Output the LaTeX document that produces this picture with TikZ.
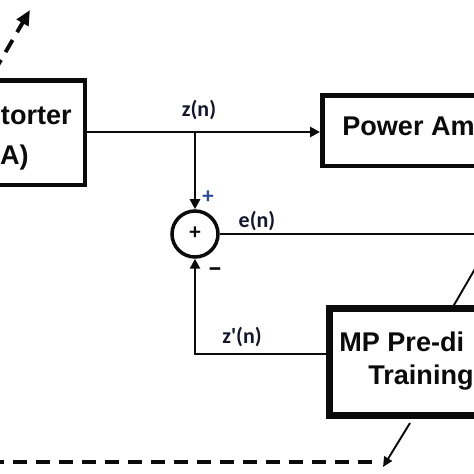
\documentclass[tikz,border=0pt]{standalone}
\usepackage{fontspec}
\setmainfont{Liberation Sans}
\newfontfamily\sigfont{Carlito}
\usetikzlibrary{positioning, arrows.meta, calc}
\definecolor{ink}{HTML}{0B0B0B}
\definecolor{sigink}{HTML}{15152E}
\definecolor{plusc}{HTML}{2B4C9B}

\begin{document}
\begin{tikzpicture}[
    x=0.02cm, y=0.02cm,
    box/.style={rectangle, draw=ink, line width=#1, fill=white, inner sep=0pt},
    box/.default=2.8pt,
    boxtxt/.style={font=\fontsize{15.4}{18}\selectfont\bfseries, text=ink, inner sep=0pt},
    sumnode/.style={circle, draw=ink, line width=2pt, fill=white, minimum size=0.92cm, inner sep=0pt},
    wire/.style={draw=ink, line width=1.7pt},
    arr/.style={wire, -{Triangle[length=2mm, width=2mm]}},
    dashline/.style={draw=ink, line width=2.2pt, dash pattern=on 0.28cm off 0.18cm},
    adapt/.style={draw=ink, line width=1.1pt},
    sig/.style={font=\sigfont\fontsize{12.5}{14}\selectfont\bfseries, text=sigink, inner sep=0pt},
    sgn/.style={font=\sigfont\fontsize{13}{14}\selectfont\bfseries, text=ink, inner sep=0pt},
]

\useasboundingbox (0,0) rectangle (474,474);
\clip (0,0) rectangle (474,474);
\fill [white] (0,0) rectangle (474,474);

% ---------------------------------------------------------------- blocks
\node (pda) [box, minimum width=2.9cm,  minimum height=2.09cm] at (12.5,341.25) {};
\node (pa)  [box, minimum width=4.75cm, minimum height=1.41cm] at (441.25,343.25) {};
\node (mp)  [box=4pt, minimum width=5.42cm, minimum height=2.14cm] at (464.5,112) {};
\node (sum) [sumnode] at (195,240) {};

\node (pdat1) [boxtxt, anchor=base east] at (72,349) {torter};
\node (pdat2) [boxtxt, anchor=base east] at (29,309) {A)};
\node (pat)   [boxtxt, anchor=base west] at (342,338) {Power Am};
\node (mpt1)  [boxtxt, anchor=base west] at (339,122) {MP Pre-di};
\node (mpt2)  [boxtxt, anchor=base west] at (368,90)  {Training};

% ---------------------------------------------------------------- signal path
\coordinate (j)    at (195,342);
\coordinate (zb)   at (195,120);
\coordinate (eout) at (490,240);

\draw [arr]  (pda.east |- j) -- (pa.west |- j);
\draw [arr]  (j) -- (sum.north);
\draw [wire] (sum.east) -- (eout);
\draw [arr]  (zb -| mp.west) -- (zb) -- (sum.south);

\node (zlbl)  [sig] at (199,364) {z(n)};
\node (elbl)  [sig] at (257,253) {e(n)};
\node (zplbl) [sig] at (242,137) {z'(n)};
\node (sp)    [sgn] at (195,241) {+};
\node (pls)   [sgn, text=plusc] at (208,277) {+};
\node (mns)   [sgn, font=\sigfont\fontsize{17}{18}\selectfont\bfseries] at (215,201) {\textendash};

% ---------------------------------------------------------------- adaptation
\coordinate (adb) at (452,165.5);
\coordinate (adt) at (490,231);
\coordinate (mpo) at (410,51);
\coordinate (tip) at (383,7);

\draw [adapt] (adb) -- (adt);
\draw [adapt, -{Triangle[length=2mm, width=1.8mm]}] (mpo) -- (tip);

% ---------------------------------------------------------------- dashed paths
\coordinate (dl)  at (-10,12);
\coordinate (dr)  at (374,12);
\coordinate (ulf) at (-6,402);
\coordinate (ult) at (30,464);

\draw [dashline] (dl) -- (dr);
\draw [dashline, -{Triangle[length=3mm, width=2.6mm]}] (ulf) -- (ult);

\end{tikzpicture}
\end{document}
